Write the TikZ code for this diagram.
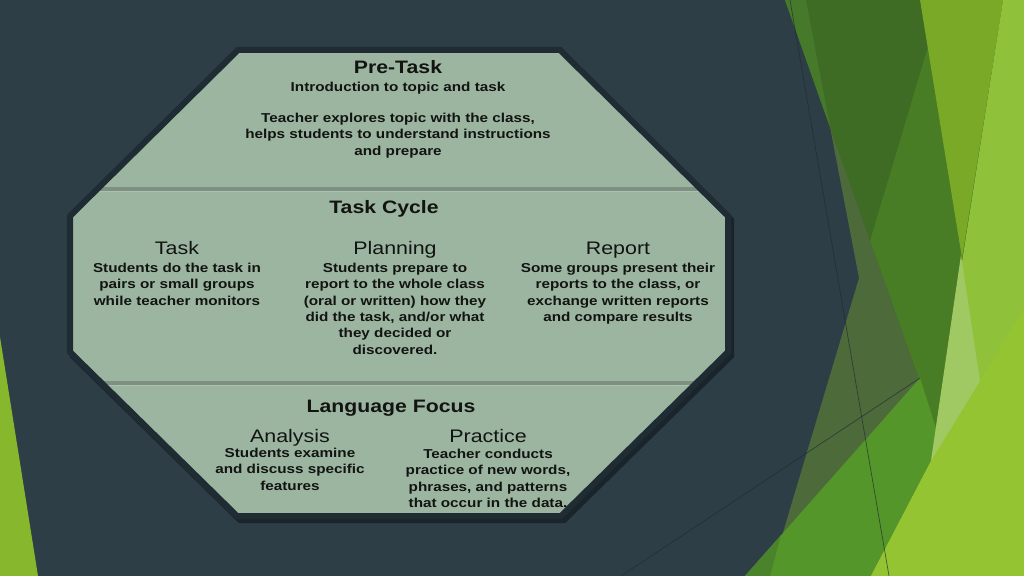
\documentclass[tikz,border=0pt]{standalone}
\usepackage{fontspec}
\setmainfont{Liberation Sans}[FakeStretch=1.18]
\usetikzlibrary{positioning}
\definecolor{slate}{RGB}{45,62,71}
\definecolor{octfill}{RGB}{156,181,160}
\definecolor{octline}{RGB}{31,44,51}
\definecolor{octshadow}{RGB}{26,37,43}
\definecolor{sepdark}{RGB}{126,144,129}
\definecolor{seplight}{RGB}{172,194,175}
\definecolor{inktext}{RGB}{18,20,18}
\definecolor{gdark}{RGB}{62,108,36}
\definecolor{gsliver}{RGB}{70,122,42}
\definecolor{gmid}{RGB}{72,124,37}
\definecolor{gyellow}{RGB}{121,169,39}
\definecolor{golive}{RGB}{77,106,59}
\definecolor{gmedium}{RGB}{85,150,42}
\definecolor{gmedslate}{RGB}{75,130,44}
\definecolor{glight}{RGB}{143,193,58}
\definecolor{gbright}{RGB}{148,196,49}
\definecolor{gpale}{RGB}{160,201,99}
\definecolor{gcorner}{RGB}{134,183,44}
\tikzstyle{headtext} = [font=\fontsize{12.8}{14}\selectfont\bfseries, text=inktext, anchor=base, inner sep=0pt]
\tikzstyle{subtext} = [font=\fontsize{12.9}{14}\selectfont, text=inktext, anchor=base, inner sep=0pt]
\tikzstyle{bodytext} = [font=\fontsize{9.2}{11.6}\selectfont\bfseries, text=inktext, align=center, anchor=north, inner sep=0pt]
\tikzstyle{thinline} = [draw=octline, line width=0.5pt, opacity=0.7]
\tikzstyle{separator} = [draw=sepdark, line width=2.5pt]
\tikzstyle{highlight} = [draw=seplight, line width=1pt]
\newcommand{\headtext}[2]{node (h#1) [headtext] {#2}}
\newcommand{\subtext}[2]{node (s#1) [subtext] {#2}}
\newcommand{\bodytext}[2]{node (b#1) [bodytext] {#2}}
\newcommand{\octpath}{(238,50) -- (560,50) -- (728,216) -- (728,352) -- (561,516) -- (237,516) -- (70,352) -- (70,216) -- cycle}
\begin{document}
\begin{tikzpicture}[x=0.025cm,y=-0.025cm]
\useasboundingbox (0,0) rectangle (1024,576);
\fill[slate] (0,0) rectangle (1024,576);

% facets on the right
\fill[gdark] (785,0) -- (1003,0) -- (936,428) -- cycle;
\fill[gsliver] (785,0) -- (806,0) -- (830,127) -- cycle;
\fill[gmid] (942,0) -- (1003,0) -- (936,428) -- (870,241) -- cycle;
\fill[gyellow] (920,0) -- (1003,0) -- (962,258) -- cycle;
\fill[golive] (830,127) -- (936,428) -- (931,461) -- (871,576) -- (770,576) -- (859,278) -- cycle;
\fill[gmedium] (745,576) -- (920,378) -- (936,428) -- (931,461) -- (871,576) -- cycle;
\fill[gmedslate] (745,576) -- (781,535) -- (770,576) -- cycle;
\fill[glight] (1003,0) -- (1024,0) -- (1024,576) -- (871,576) -- (931,461) -- (936,428) -- cycle;
\fill[gbright] (931,461) -- (1024,308) -- (1024,576) -- (871,576) -- cycle;
\fill[gpale] (961,255) -- (980,381) -- (931,461) -- cycle;
\path[thinline] (790,0) -- (889,576);
\path[thinline] (621,576) -- (920,378);
% corner bottom left
\fill[gcorner] (0,337) -- (38,576) -- (0,576) -- cycle;

% octagon
\begin{scope}[shift={(3,4)}]
\filldraw[fill=octshadow, draw=octshadow, line width=0.15cm] \octpath;
\end{scope}
\fill[octfill] \octpath;
\begin{scope}
\clip \octpath;
\path[separator] (0,189) -- (1024,189);
\path[highlight] (0,191.5) -- (1024,191.5);
\path[separator] (0,383) -- (1024,383);
\path[highlight] (0,385.5) -- (1024,385.5);
\end{scope}
\draw[octline, line width=0.15cm, line join=miter] \octpath;

% pre-task
\path (398,74) \headtext{1}{Pre-Task};
\path (h1.base)+(0,8) \bodytext{1}{Introduction to topic and task};
\path (h1.base)+(0,39) \bodytext{2}{Teacher explores topic with the class,\\helps students to understand instructions\\and prepare};

% task cycle
\path (384,214) \headtext{2}{Task Cycle};
\path (177,255) \subtext{1}{Task};
\path (395,255) \subtext{2}{Planning};
\path (618,255) \subtext{3}{Report};
\path (s1.base)+(0,8) \bodytext{3}{Students do the task in\\pairs or small groups\\while teacher monitors};
\path (s2.base)+(0,8) \bodytext{4}{Students prepare to\\report to the whole class\\(oral or written) how they\\did the task, and/or what\\they decided or\\discovered.};
\path (s3.base)+(0,8) \bodytext{5}{Some groups present their\\reports to the class, or\\exchange written reports\\and compare results};

% language focus
\path (391,412) \headtext{3}{Language Focus};
\path (290,442) \subtext{4}{Analysis};
\path (488,442) \subtext{5}{Practice};
\path (s4.base)+(0,6) \bodytext{6}{Students examine\\and discuss specific\\features};
\path (s5.base)+(0,7) \bodytext{7}{Teacher conducts\\practice of new words,\\phrases, and patterns\\that occur in the data.};
\end{tikzpicture}
\end{document}
